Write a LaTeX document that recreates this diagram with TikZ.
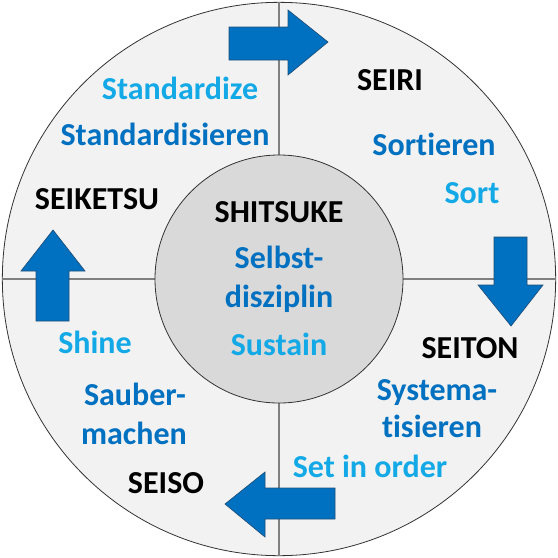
\documentclass[tikz,border=0pt]{standalone}
\usepackage{fontspec}
\setmainfont{Carlito}[Ligatures=NoCommon]
\usetikzlibrary{positioning}
\definecolor{ringfill}{HTML}{F2F2F2}
\definecolor{hubfill}{HTML}{D9D9D9}
\definecolor{darkblue}{HTML}{0070C0}
\definecolor{lightblue}{HTML}{13A9E6}
\definecolor{arrowline}{HTML}{1F4E79}
\begin{document}
\begin{tikzpicture}[x=0.75pt, y=-0.75pt]
			\tikzset {every node/.style={font=\fontsize{24}{28}\selectfont\bfseries, anchor=base, inner sep=0pt}, jp/.style={text=black}, de/.style={text=darkblue}, en/.style={text=lightblue}, divider/.style={draw=gray, line width=1.2pt}, blockarrow/.style={fill=darkblue, draw=arrowline, line width=0.5pt} }

			\useasboundingbox (0,0) rectangle (558,558);
			\node[circle, draw=black!80, fill=ringfill, line width=0.6pt, minimum size=415pt, anchor=center] (outer) at (279,279) {};
			\draw[divider] (outer.north) -- (outer.south);
			\draw[divider] (outer.west) -- (outer.east);
			\node[circle, draw=black!80, fill=hubfill, line width=0.6pt, minimum size=186pt, anchor=center] (inner) at (279,279) {};

			% arrows
			\draw[blockarrow] (229,27) -- (288,27) -- (288,10) -- (328,42) -- (288,75) -- (288,60) -- (229,60) -- cycle;
			\draw[blockarrow] (494,237) -- (527,237) -- (527,285) -- (543,285) -- (511,326) -- (478,285) -- (494,285) -- cycle;
			\draw[blockarrow] (335,488) -- (335,519) -- (265,519) -- (265,537) -- (225,504) -- (265,472) -- (265,488) -- cycle;
			\draw[blockarrow] (36,321) -- (69,321) -- (69,271) -- (85,271) -- (53,230) -- (21,271) -- (36,271) -- cycle;

			% hub
			\node[jp] (shitsuke) at (279,222) {SHITSUKE};
			\node[de] (selbst) at (279,268) {Selbst-};
			\node[de] (disziplin) at (279,307) {disziplin};
			\node[en] (sustain) at (279,355) {Sustain};

			% ring
			\node[jp] (seiri) at (390,90) {SEIRI};
			\node[de] (sortieren) at (434,155) {Sortieren};
			\node[en] (sort) at (472,203) {Sort};

			\node[jp] (seiton) at (470,358) {SEITON};
			\node[de] (systema) at (437,400) {Systema-};
			\node[de] (tisieren) at (432,437) {tisieren};
			\node[en] (setinorder) at (370,477) {Set in order};

			\node[en] (shine) at (95,353) {Shine};
			\node[de] (sauber) at (135,405) {Sauber-};
			\node[de] (machen) at (134,444) {machen};
			\node[jp] (seiso) at (166,493) {SEISO};

			\node[jp] (seiketsu) at (97,209) {SEIKETSU};
			\node[en] (standardize) at (180,99) {Standardize};
			\node[de] (standardisieren) at (165,145) {Standardisieren};
\end{tikzpicture}
\end{document}
